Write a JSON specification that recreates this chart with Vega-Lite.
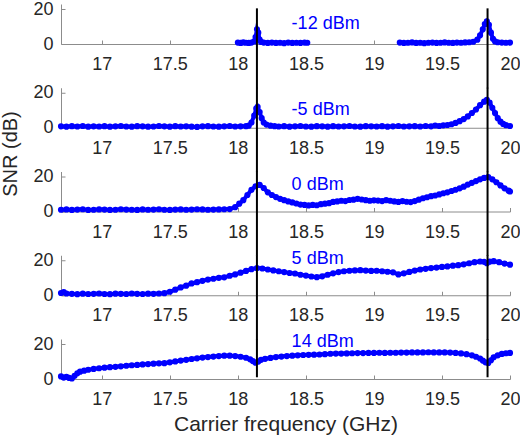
{
  "$schema": "https://vega.github.io/schema/vega-lite/v6.json",
  "background": "white",
  "padding": {"left": 0, "top": 0, "right": 0, "bottom": 0},
  "autosize": {"type": "pad"},
  "bounds": "flush",
  "spacing": 43.75,
  "config": {
    "view": {"stroke": null},
    "font": "Liberation Sans",
    "axis": {
      "labelFont": "Liberation Sans",
      "titleFont": "Liberation Sans",
      "labelFontSize": 18,
      "titleFontSize": 20,
      "titleFontWeight": "normal",
      "labelColor": "#262626",
      "titleColor": "#262626",
      "domainColor": "#8c8c8c",
      "tickColor": "#8c8c8c",
      "tickSize": -4,
      "labelFlush": false,
      "grid": false
    }
  },
  "datasets": {
    "vlines": [{"f": 18.14}, {"f": 19.835}],
    "snr": [
      {"p":"-12 dBm","g":"a","f":18.00,"s":0.8},{"p":"-12 dBm","g":"a","f":18.02,"s":0.6},{"p":"-12 dBm","g":"a","f":18.04,"s":0.9},
      {"p":"-12 dBm","g":"a","f":18.06,"s":0.7},{"p":"-12 dBm","g":"a","f":18.08,"s":0.6},{"p":"-12 dBm","g":"a","f":18.10,"s":0.8},
      {"p":"-12 dBm","g":"a","f":18.12,"s":1.5},{"p":"-12 dBm","g":"a","f":18.13,"s":4},{"p":"-12 dBm","g":"a","f":18.14,"s":8.5},
      {"p":"-12 dBm","g":"a","f":18.15,"s":6.5},{"p":"-12 dBm","g":"a","f":18.16,"s":2.5},{"p":"-12 dBm","g":"a","f":18.17,"s":1.2},
      {"p":"-12 dBm","g":"a","f":18.19,"s":0.8},{"p":"-12 dBm","g":"a","f":18.22,"s":0.6},{"p":"-12 dBm","g":"a","f":18.25,"s":0.8},
      {"p":"-12 dBm","g":"a","f":18.28,"s":0.6},{"p":"-12 dBm","g":"a","f":18.31,"s":0.7},{"p":"-12 dBm","g":"a","f":18.34,"s":0.5},
      {"p":"-12 dBm","g":"a","f":18.37,"s":0.8},{"p":"-12 dBm","g":"a","f":18.40,"s":0.6},{"p":"-12 dBm","g":"a","f":18.43,"s":0.7},
      {"p":"-12 dBm","g":"a","f":18.46,"s":0.6},{"p":"-12 dBm","g":"a","f":18.49,"s":0.8},{"p":"-12 dBm","g":"a","f":18.51,"s":0.7},
      {"p":"-12 dBm","g":"b","f":19.19,"s":0.8},{"p":"-12 dBm","g":"b","f":19.22,"s":0.6},{"p":"-12 dBm","g":"b","f":19.25,"s":0.7},
      {"p":"-12 dBm","g":"b","f":19.28,"s":0.9},{"p":"-12 dBm","g":"b","f":19.31,"s":0.6},{"p":"-12 dBm","g":"b","f":19.34,"s":0.7},
      {"p":"-12 dBm","g":"b","f":19.37,"s":0.5},{"p":"-12 dBm","g":"b","f":19.40,"s":0.7},{"p":"-12 dBm","g":"b","f":19.43,"s":0.8},
      {"p":"-12 dBm","g":"b","f":19.46,"s":0.6},{"p":"-12 dBm","g":"b","f":19.49,"s":0.7},{"p":"-12 dBm","g":"b","f":19.52,"s":0.9},
      {"p":"-12 dBm","g":"b","f":19.55,"s":0.7},{"p":"-12 dBm","g":"b","f":19.58,"s":0.6},{"p":"-12 dBm","g":"b","f":19.61,"s":0.8},
      {"p":"-12 dBm","g":"b","f":19.64,"s":0.7},{"p":"-12 dBm","g":"b","f":19.67,"s":0.9},{"p":"-12 dBm","g":"b","f":19.70,"s":1.0},
      {"p":"-12 dBm","g":"b","f":19.73,"s":1.3},{"p":"-12 dBm","g":"b","f":19.76,"s":2.5},{"p":"-12 dBm","g":"b","f":19.78,"s":5},
      {"p":"-12 dBm","g":"b","f":19.80,"s":8.5},{"p":"-12 dBm","g":"b","f":19.815,"s":11.5},{"p":"-12 dBm","g":"b","f":19.83,"s":13},
      {"p":"-12 dBm","g":"b","f":19.845,"s":11},{"p":"-12 dBm","g":"b","f":19.86,"s":6.5},{"p":"-12 dBm","g":"b","f":19.875,"s":3},
      {"p":"-12 dBm","g":"b","f":19.89,"s":1.5},{"p":"-12 dBm","g":"b","f":19.91,"s":1.0},{"p":"-12 dBm","g":"b","f":19.94,"s":0.8},
      {"p":"-12 dBm","g":"b","f":19.97,"s":0.7},{"p":"-12 dBm","g":"b","f":20.00,"s":0.8},

      {"p":"-5 dBm","f":16.70,"s":0.8},{"p":"-5 dBm","f":16.74,"s":0.6},{"p":"-5 dBm","f":16.78,"s":0.9},{"p":"-5 dBm","f":16.82,"s":0.7},
      {"p":"-5 dBm","f":16.86,"s":1.0},{"p":"-5 dBm","f":16.90,"s":0.6},{"p":"-5 dBm","f":16.94,"s":0.8},{"p":"-5 dBm","f":16.98,"s":0.7},
      {"p":"-5 dBm","f":17.02,"s":0.9},{"p":"-5 dBm","f":17.06,"s":0.6},{"p":"-5 dBm","f":17.10,"s":0.8},{"p":"-5 dBm","f":17.14,"s":1.0},
      {"p":"-5 dBm","f":17.18,"s":0.7},{"p":"-5 dBm","f":17.22,"s":0.6},{"p":"-5 dBm","f":17.26,"s":0.9},{"p":"-5 dBm","f":17.30,"s":0.8},
      {"p":"-5 dBm","f":17.34,"s":0.6},{"p":"-5 dBm","f":17.38,"s":0.7},{"p":"-5 dBm","f":17.42,"s":1.0},{"p":"-5 dBm","f":17.46,"s":0.8},
      {"p":"-5 dBm","f":17.50,"s":0.6},{"p":"-5 dBm","f":17.54,"s":0.9},{"p":"-5 dBm","f":17.58,"s":0.7},{"p":"-5 dBm","f":17.62,"s":0.8},
      {"p":"-5 dBm","f":17.66,"s":0.6},{"p":"-5 dBm","f":17.70,"s":0.5},{"p":"-5 dBm","f":17.74,"s":0.8},{"p":"-5 dBm","f":17.78,"s":0.9},
      {"p":"-5 dBm","f":17.82,"s":0.7},{"p":"-5 dBm","f":17.86,"s":0.6},{"p":"-5 dBm","f":17.90,"s":0.8},{"p":"-5 dBm","f":17.94,"s":1.0},
      {"p":"-5 dBm","f":17.98,"s":0.7},{"p":"-5 dBm","f":18.02,"s":0.8},{"p":"-5 dBm","f":18.06,"s":0.9},
      {"p":"-5 dBm","f":18.08,"s":1.2},{"p":"-5 dBm","f":18.10,"s":3},{"p":"-5 dBm","f":18.12,"s":7},{"p":"-5 dBm","f":18.135,"s":11},
      {"p":"-5 dBm","f":18.145,"s":12},{"p":"-5 dBm","f":18.16,"s":9},{"p":"-5 dBm","f":18.175,"s":5.5},{"p":"-5 dBm","f":18.19,"s":3},
      {"p":"-5 dBm","f":18.21,"s":1.8},{"p":"-5 dBm","f":18.24,"s":1.2},{"p":"-5 dBm","f":18.27,"s":0.9},
      {"p":"-5 dBm","f":18.30,"s":0.7},{"p":"-5 dBm","f":18.34,"s":0.9},{"p":"-5 dBm","f":18.38,"s":0.6},{"p":"-5 dBm","f":18.42,"s":0.8},
      {"p":"-5 dBm","f":18.46,"s":1.0},{"p":"-5 dBm","f":18.50,"s":0.7},{"p":"-5 dBm","f":18.54,"s":0.6},{"p":"-5 dBm","f":18.58,"s":0.9},
      {"p":"-5 dBm","f":18.62,"s":0.8},{"p":"-5 dBm","f":18.66,"s":0.6},{"p":"-5 dBm","f":18.70,"s":0.9},{"p":"-5 dBm","f":18.74,"s":0.7},
      {"p":"-5 dBm","f":18.78,"s":0.8},{"p":"-5 dBm","f":18.82,"s":1.0},{"p":"-5 dBm","f":18.86,"s":0.7},{"p":"-5 dBm","f":18.90,"s":0.6},
      {"p":"-5 dBm","f":18.94,"s":0.9},{"p":"-5 dBm","f":18.98,"s":0.8},{"p":"-5 dBm","f":19.02,"s":0.7},{"p":"-5 dBm","f":19.06,"s":0.9},
      {"p":"-5 dBm","f":19.10,"s":0.6},{"p":"-5 dBm","f":19.14,"s":0.8},{"p":"-5 dBm","f":19.18,"s":1.0},{"p":"-5 dBm","f":19.22,"s":0.7},
      {"p":"-5 dBm","f":19.26,"s":0.8},{"p":"-5 dBm","f":19.30,"s":0.9},{"p":"-5 dBm","f":19.34,"s":0.7},{"p":"-5 dBm","f":19.38,"s":1.0},
      {"p":"-5 dBm","f":19.42,"s":0.8},{"p":"-5 dBm","f":19.45,"s":1.3},{"p":"-5 dBm","f":19.48,"s":1.0},{"p":"-5 dBm","f":19.51,"s":1.4},
      {"p":"-5 dBm","f":19.54,"s":1.6},{"p":"-5 dBm","f":19.57,"s":2.0},{"p":"-5 dBm","f":19.60,"s":2.8},{"p":"-5 dBm","f":19.63,"s":3.8},
      {"p":"-5 dBm","f":19.66,"s":5},{"p":"-5 dBm","f":19.69,"s":6.5},{"p":"-5 dBm","f":19.72,"s":8.5},{"p":"-5 dBm","f":19.75,"s":10.5},
      {"p":"-5 dBm","f":19.78,"s":13},{"p":"-5 dBm","f":19.81,"s":15},{"p":"-5 dBm","f":19.83,"s":16},{"p":"-5 dBm","f":19.85,"s":14.5},
      {"p":"-5 dBm","f":19.87,"s":11.5},{"p":"-5 dBm","f":19.89,"s":8.5},{"p":"-5 dBm","f":19.91,"s":5.5},{"p":"-5 dBm","f":19.93,"s":3.5},
      {"p":"-5 dBm","f":19.95,"s":2.2},{"p":"-5 dBm","f":19.97,"s":1.5},{"p":"-5 dBm","f":20.00,"s":1.0},

      {"p":"0 dBm","f":16.70,"s":1.0},{"p":"0 dBm","f":16.74,"s":1.2},{"p":"0 dBm","f":16.78,"s":0.9},{"p":"0 dBm","f":16.82,"s":1.1},
      {"p":"0 dBm","f":16.86,"s":1.3},{"p":"0 dBm","f":16.90,"s":0.9},{"p":"0 dBm","f":16.94,"s":1.0},{"p":"0 dBm","f":16.98,"s":1.2},
      {"p":"0 dBm","f":17.02,"s":1.1},{"p":"0 dBm","f":17.06,"s":0.9},{"p":"0 dBm","f":17.10,"s":1.0},{"p":"0 dBm","f":17.14,"s":1.3},
      {"p":"0 dBm","f":17.18,"s":1.1},{"p":"0 dBm","f":17.22,"s":1.0},{"p":"0 dBm","f":17.26,"s":0.9},{"p":"0 dBm","f":17.30,"s":1.2},
      {"p":"0 dBm","f":17.34,"s":1.0},{"p":"0 dBm","f":17.38,"s":1.1},{"p":"0 dBm","f":17.42,"s":1.3},{"p":"0 dBm","f":17.46,"s":1.0},
      {"p":"0 dBm","f":17.50,"s":0.9},{"p":"0 dBm","f":17.54,"s":1.1},{"p":"0 dBm","f":17.58,"s":1.2},{"p":"0 dBm","f":17.62,"s":1.0},
      {"p":"0 dBm","f":17.66,"s":1.1},{"p":"0 dBm","f":17.70,"s":1.3},{"p":"0 dBm","f":17.74,"s":1.2},{"p":"0 dBm","f":17.78,"s":1.0},
      {"p":"0 dBm","f":17.82,"s":1.1},{"p":"0 dBm","f":17.86,"s":1.2},{"p":"0 dBm","f":17.90,"s":1.3},{"p":"0 dBm","f":17.94,"s":1.4},
      {"p":"0 dBm","f":17.98,"s":2.5},{"p":"0 dBm","f":18.01,"s":4.5},{"p":"0 dBm","f":18.04,"s":6.5},{"p":"0 dBm","f":18.07,"s":9.5},
      {"p":"0 dBm","f":18.10,"s":12.5},{"p":"0 dBm","f":18.13,"s":14.5},{"p":"0 dBm","f":18.16,"s":15.3},{"p":"0 dBm","f":18.19,"s":13.5},
      {"p":"0 dBm","f":18.22,"s":11},{"p":"0 dBm","f":18.25,"s":9.5},{"p":"0 dBm","f":18.28,"s":8.3},{"p":"0 dBm","f":18.31,"s":7.3},
      {"p":"0 dBm","f":18.34,"s":6.5},{"p":"0 dBm","f":18.37,"s":5.8},{"p":"0 dBm","f":18.40,"s":5.2},{"p":"0 dBm","f":18.43,"s":4.6},
      {"p":"0 dBm","f":18.46,"s":4.0},{"p":"0 dBm","f":18.49,"s":3.8},{"p":"0 dBm","f":18.52,"s":3.5},{"p":"0 dBm","f":18.55,"s":3.8},
      {"p":"0 dBm","f":18.58,"s":3.6},{"p":"0 dBm","f":18.61,"s":4.2},{"p":"0 dBm","f":18.64,"s":4.5},{"p":"0 dBm","f":18.67,"s":4.8},
      {"p":"0 dBm","f":18.70,"s":5.5},{"p":"0 dBm","f":18.73,"s":5.8},{"p":"0 dBm","f":18.76,"s":6.2},{"p":"0 dBm","f":18.79,"s":6.0},
      {"p":"0 dBm","f":18.82,"s":6.6},{"p":"0 dBm","f":18.85,"s":6.8},{"p":"0 dBm","f":18.88,"s":7.3},{"p":"0 dBm","f":18.91,"s":6.9},
      {"p":"0 dBm","f":18.94,"s":6.5},{"p":"0 dBm","f":18.97,"s":6.2},{"p":"0 dBm","f":19.00,"s":6.4},{"p":"0 dBm","f":19.03,"s":6.3},
      {"p":"0 dBm","f":19.06,"s":6.0},{"p":"0 dBm","f":19.09,"s":6.5},{"p":"0 dBm","f":19.12,"s":6.2},{"p":"0 dBm","f":19.15,"s":5.8},
      {"p":"0 dBm","f":19.18,"s":5.5},{"p":"0 dBm","f":19.21,"s":6.0},{"p":"0 dBm","f":19.24,"s":5.6},{"p":"0 dBm","f":19.27,"s":5.4},
      {"p":"0 dBm","f":19.30,"s":6.0},{"p":"0 dBm","f":19.33,"s":6.8},{"p":"0 dBm","f":19.36,"s":7.6},{"p":"0 dBm","f":19.39,"s":8.2},
      {"p":"0 dBm","f":19.42,"s":8.8},{"p":"0 dBm","f":19.45,"s":9.2},{"p":"0 dBm","f":19.48,"s":9.8},{"p":"0 dBm","f":19.51,"s":10.5},
      {"p":"0 dBm","f":19.54,"s":11.0},{"p":"0 dBm","f":19.57,"s":11.8},{"p":"0 dBm","f":19.60,"s":12.5},{"p":"0 dBm","f":19.63,"s":13.3},
      {"p":"0 dBm","f":19.66,"s":14.3},{"p":"0 dBm","f":19.69,"s":15.5},{"p":"0 dBm","f":19.72,"s":16.5},{"p":"0 dBm","f":19.75,"s":17.5},
      {"p":"0 dBm","f":19.78,"s":18.5},{"p":"0 dBm","f":19.81,"s":19.3},{"p":"0 dBm","f":19.84,"s":19.8},{"p":"0 dBm","f":19.87,"s":18.5},
      {"p":"0 dBm","f":19.90,"s":16.8},{"p":"0 dBm","f":19.93,"s":15},{"p":"0 dBm","f":19.96,"s":13.3},{"p":"0 dBm","f":19.99,"s":12},
      {"p":"0 dBm","f":20.00,"s":11.5},

      {"p":"5 dBm","f":16.70,"s":1.3},{"p":"5 dBm","f":16.72,"s":1.8},{"p":"5 dBm","f":16.74,"s":1.0},{"p":"5 dBm","f":16.78,"s":0.8},
      {"p":"5 dBm","f":16.82,"s":0.6},{"p":"5 dBm","f":16.86,"s":0.9},{"p":"5 dBm","f":16.90,"s":0.7},{"p":"5 dBm","f":16.94,"s":0.8},
      {"p":"5 dBm","f":16.98,"s":1.0},{"p":"5 dBm","f":17.02,"s":0.7},{"p":"5 dBm","f":17.06,"s":0.6},{"p":"5 dBm","f":17.10,"s":0.9},
      {"p":"5 dBm","f":17.14,"s":0.8},{"p":"5 dBm","f":17.18,"s":0.7},{"p":"5 dBm","f":17.22,"s":1.0},{"p":"5 dBm","f":17.26,"s":0.8},
      {"p":"5 dBm","f":17.30,"s":0.7},{"p":"5 dBm","f":17.34,"s":0.9},{"p":"5 dBm","f":17.38,"s":0.8},{"p":"5 dBm","f":17.42,"s":1.0},
      {"p":"5 dBm","f":17.46,"s":1.2},{"p":"5 dBm","f":17.50,"s":2.0},{"p":"5 dBm","f":17.54,"s":3.2},{"p":"5 dBm","f":17.58,"s":4.5},
      {"p":"5 dBm","f":17.62,"s":5.5},{"p":"5 dBm","f":17.66,"s":6.8},{"p":"5 dBm","f":17.70,"s":7.5},{"p":"5 dBm","f":17.74,"s":8.3},
      {"p":"5 dBm","f":17.78,"s":9.0},{"p":"5 dBm","f":17.82,"s":9.5},{"p":"5 dBm","f":17.86,"s":10.0},{"p":"5 dBm","f":17.90,"s":10.3},
      {"p":"5 dBm","f":17.94,"s":11.2},{"p":"5 dBm","f":17.98,"s":12.0},{"p":"5 dBm","f":18.02,"s":13.0},{"p":"5 dBm","f":18.06,"s":14.0},
      {"p":"5 dBm","f":18.10,"s":15.0},{"p":"5 dBm","f":18.14,"s":15.6},{"p":"5 dBm","f":18.18,"s":15.4},{"p":"5 dBm","f":18.22,"s":14.8},
      {"p":"5 dBm","f":18.26,"s":14.3},{"p":"5 dBm","f":18.30,"s":13.8},{"p":"5 dBm","f":18.34,"s":13.3},{"p":"5 dBm","f":18.38,"s":12.8},
      {"p":"5 dBm","f":18.42,"s":12.5},{"p":"5 dBm","f":18.46,"s":11.8},{"p":"5 dBm","f":18.50,"s":11.3},{"p":"5 dBm","f":18.54,"s":10.8},
      {"p":"5 dBm","f":18.58,"s":10.4},{"p":"5 dBm","f":18.62,"s":10.9},{"p":"5 dBm","f":18.66,"s":11.8},{"p":"5 dBm","f":18.70,"s":12.6},
      {"p":"5 dBm","f":18.74,"s":13.3},{"p":"5 dBm","f":18.78,"s":13.8},{"p":"5 dBm","f":18.82,"s":14.1},{"p":"5 dBm","f":18.86,"s":14.3},
      {"p":"5 dBm","f":18.90,"s":14.4},{"p":"5 dBm","f":18.94,"s":14.2},{"p":"5 dBm","f":18.98,"s":14.0},{"p":"5 dBm","f":19.02,"s":14.1},
      {"p":"5 dBm","f":19.06,"s":13.8},{"p":"5 dBm","f":19.10,"s":13.5},{"p":"5 dBm","f":19.14,"s":13.2},{"p":"5 dBm","f":19.18,"s":12.0},
      {"p":"5 dBm","f":19.22,"s":12.6},{"p":"5 dBm","f":19.26,"s":13.4},{"p":"5 dBm","f":19.30,"s":14.2},{"p":"5 dBm","f":19.34,"s":14.8},
      {"p":"5 dBm","f":19.38,"s":15.2},{"p":"5 dBm","f":19.42,"s":15.6},{"p":"5 dBm","f":19.46,"s":15.9},{"p":"5 dBm","f":19.50,"s":16.3},
      {"p":"5 dBm","f":19.54,"s":16.6},{"p":"5 dBm","f":19.58,"s":17.0},{"p":"5 dBm","f":19.62,"s":17.3},{"p":"5 dBm","f":19.66,"s":17.8},
      {"p":"5 dBm","f":19.70,"s":18.4},{"p":"5 dBm","f":19.74,"s":19.0},{"p":"5 dBm","f":19.78,"s":19.4},{"p":"5 dBm","f":19.81,"s":19.2},
      {"p":"5 dBm","f":19.83,"s":18.4},{"p":"5 dBm","f":19.85,"s":19.3},{"p":"5 dBm","f":19.88,"s":19.6},{"p":"5 dBm","f":19.92,"s":19.0},
      {"p":"5 dBm","f":19.96,"s":18.2},{"p":"5 dBm","f":20.00,"s":17.6},

      {"p":"14 dBm","f":16.70,"s":1.5},{"p":"14 dBm","f":16.72,"s":0.8},{"p":"14 dBm","f":16.74,"s":1.2},{"p":"14 dBm","f":16.76,"s":0.6},
      {"p":"14 dBm","f":16.78,"s":0.3},{"p":"14 dBm","f":16.80,"s":1.8},{"p":"14 dBm","f":16.82,"s":3.3},{"p":"14 dBm","f":16.84,"s":4.2},
      {"p":"14 dBm","f":16.87,"s":4.8},{"p":"14 dBm","f":16.90,"s":5.3},{"p":"14 dBm","f":16.94,"s":5.8},{"p":"14 dBm","f":16.98,"s":6.2},
      {"p":"14 dBm","f":17.02,"s":6.5},{"p":"14 dBm","f":17.06,"s":6.8},{"p":"14 dBm","f":17.10,"s":7.0},{"p":"14 dBm","f":17.14,"s":7.3},
      {"p":"14 dBm","f":17.18,"s":7.6},{"p":"14 dBm","f":17.22,"s":7.9},{"p":"14 dBm","f":17.26,"s":8.1},{"p":"14 dBm","f":17.30,"s":8.4},
      {"p":"14 dBm","f":17.34,"s":8.6},{"p":"14 dBm","f":17.38,"s":8.8},{"p":"14 dBm","f":17.42,"s":9.0},{"p":"14 dBm","f":17.46,"s":9.1},
      {"p":"14 dBm","f":17.50,"s":9.6},{"p":"14 dBm","f":17.54,"s":10.1},{"p":"14 dBm","f":17.58,"s":10.6},{"p":"14 dBm","f":17.62,"s":11.0},
      {"p":"14 dBm","f":17.66,"s":11.5},{"p":"14 dBm","f":17.70,"s":11.9},{"p":"14 dBm","f":17.74,"s":12.3},{"p":"14 dBm","f":17.78,"s":12.6},
      {"p":"14 dBm","f":17.82,"s":12.9},{"p":"14 dBm","f":17.86,"s":13.2},{"p":"14 dBm","f":17.90,"s":13.4},{"p":"14 dBm","f":17.94,"s":13.4},
      {"p":"14 dBm","f":17.98,"s":13.2},{"p":"14 dBm","f":18.02,"s":12.8},{"p":"14 dBm","f":18.06,"s":12.2},{"p":"14 dBm","f":18.09,"s":11.3},
      {"p":"14 dBm","f":18.11,"s":10.3},{"p":"14 dBm","f":18.13,"s":9.4},{"p":"14 dBm","f":18.15,"s":10.0},{"p":"14 dBm","f":18.17,"s":11.0},
      {"p":"14 dBm","f":18.20,"s":11.6},{"p":"14 dBm","f":18.24,"s":12.1},{"p":"14 dBm","f":18.28,"s":12.6},{"p":"14 dBm","f":18.32,"s":12.9},
      {"p":"14 dBm","f":18.36,"s":13.2},{"p":"14 dBm","f":18.40,"s":13.4},{"p":"14 dBm","f":18.44,"s":13.6},{"p":"14 dBm","f":18.48,"s":13.8},
      {"p":"14 dBm","f":18.52,"s":13.9},{"p":"14 dBm","f":18.56,"s":14.0},{"p":"14 dBm","f":18.60,"s":14.1},{"p":"14 dBm","f":18.64,"s":14.3},
      {"p":"14 dBm","f":18.68,"s":14.5},{"p":"14 dBm","f":18.72,"s":14.6},{"p":"14 dBm","f":18.76,"s":14.6},{"p":"14 dBm","f":18.80,"s":14.7},
      {"p":"14 dBm","f":18.84,"s":14.8},{"p":"14 dBm","f":18.88,"s":14.9},{"p":"14 dBm","f":18.92,"s":14.9},{"p":"14 dBm","f":18.96,"s":15.0},
      {"p":"14 dBm","f":19.00,"s":15.0},{"p":"14 dBm","f":19.04,"s":15.1},{"p":"14 dBm","f":19.08,"s":15.0},{"p":"14 dBm","f":19.12,"s":15.1},
      {"p":"14 dBm","f":19.16,"s":15.1},{"p":"14 dBm","f":19.20,"s":15.2},{"p":"14 dBm","f":19.24,"s":15.2},{"p":"14 dBm","f":19.28,"s":15.3},
      {"p":"14 dBm","f":19.32,"s":15.3},{"p":"14 dBm","f":19.36,"s":15.3},{"p":"14 dBm","f":19.40,"s":15.4},{"p":"14 dBm","f":19.44,"s":15.3},
      {"p":"14 dBm","f":19.48,"s":15.3},{"p":"14 dBm","f":19.52,"s":15.3},{"p":"14 dBm","f":19.56,"s":15.2},{"p":"14 dBm","f":19.60,"s":15.0},
      {"p":"14 dBm","f":19.64,"s":14.7},{"p":"14 dBm","f":19.68,"s":14.3},{"p":"14 dBm","f":19.72,"s":13.6},{"p":"14 dBm","f":19.75,"s":12.8},
      {"p":"14 dBm","f":19.78,"s":11.8},{"p":"14 dBm","f":19.80,"s":10.6},{"p":"14 dBm","f":19.82,"s":9.6},{"p":"14 dBm","f":19.84,"s":9.2},
      {"p":"14 dBm","f":19.86,"s":10.8},{"p":"14 dBm","f":19.88,"s":12.5},{"p":"14 dBm","f":19.91,"s":13.6},{"p":"14 dBm","f":19.94,"s":14.4},
      {"p":"14 dBm","f":19.97,"s":14.8},{"p":"14 dBm","f":20.00,"s":15.0}
    ]
  },
  "vconcat": [
    {
      "width": 449,
      "height": 40,
      "layer": [
        {
          "data": {"name": "snr"},
          "transform": [{"filter": "datum.p === '-12 dBm'"}],
          "mark": {"type": "line", "color": "#0000ff", "strokeWidth": 4},
          "encoding": {
            "x": {"field": "f", "type": "quantitative", "scale": {"domain": [16.7, 20], "nice": false, "zero": false},
                  "axis": {"values": [17, 17.5, 18, 18.5, 19, 19.5, 20], "format": "~g", "title": null, "labelPadding": 15.5}},
            "y": {"field": "s", "type": "quantitative", "scale": {"domain": [0, 23], "nice": false},
                  "axis": {"values": [0, 10, 20], "title": null, "labelPadding": 12}},
            "detail": {"field": "g", "type": "nominal"}
          }
        },
        {
          "data": {"name": "snr"},
          "transform": [{"filter": "datum.p === '-12 dBm'"}],
          "mark": {"type": "circle", "color": "#0000ff", "size": 38, "opacity": 1},
          "encoding": {"x": {"field": "f", "type": "quantitative"}, "y": {"field": "s", "type": "quantitative"}}
        },
        {
          "data": {"name": "vlines"},
          "mark": {"type": "rule", "color": "black", "strokeWidth": 2},
          "encoding": {"x": {"field": "f", "type": "quantitative"}, "y": {"datum": 20.5}, "y2": {"datum": -25.5}}
        },
        {
          "data": {"values": [{"t": "-12 dBm"}]},
          "mark": {"type": "text", "align": "left", "baseline": "middle", "font": "Liberation Sans", "fontSize": 18, "color": "#0000ff"},
          "encoding": {"text": {"field": "t"}, "x": {"datum": 18.395}, "y": {"datum": 11.5}}
        }
      ]
    },
    {
      "width": 449,
      "height": 40,
      "layer": [
        {
          "data": {"name": "snr"},
          "transform": [{"filter": "datum.p === '-5 dBm'"}],
          "mark": {"type": "line", "color": "#0000ff", "strokeWidth": 4},
          "encoding": {
            "x": {"field": "f", "type": "quantitative", "scale": {"domain": [16.7, 20], "nice": false, "zero": false},
                  "axis": {"values": [17, 17.5, 18, 18.5, 19, 19.5, 20], "format": "~g", "title": null, "labelPadding": 15.5}},
            "y": {"field": "s", "type": "quantitative", "scale": {"domain": [0, 23], "nice": false},
                  "axis": {"values": [0, 10, 20], "title": null, "labelPadding": 12}}
          }
        },
        {
          "data": {"name": "snr"},
          "transform": [{"filter": "datum.p === '-5 dBm'"}],
          "mark": {"type": "circle", "color": "#0000ff", "size": 38, "opacity": 1},
          "encoding": {"x": {"field": "f", "type": "quantitative"}, "y": {"field": "s", "type": "quantitative"}}
        },
        {
          "data": {"name": "vlines"},
          "mark": {"type": "rule", "color": "black", "strokeWidth": 2},
          "encoding": {"x": {"field": "f", "type": "quantitative"}, "y": {"datum": 23}, "y2": {"datum": -25.5}}
        },
        {
          "data": {"values": [{"t": "-5 dBm"}]},
          "mark": {"type": "text", "align": "left", "baseline": "middle", "font": "Liberation Sans", "fontSize": 18, "color": "#0000ff"},
          "encoding": {"text": {"field": "t"}, "x": {"datum": 18.395}, "y": {"datum": 10.1}}
        }
      ]
    },
    {
      "width": 449,
      "height": 40,
      "layer": [
        {
          "data": {"name": "snr"},
          "transform": [{"filter": "datum.p === '0 dBm'"}],
          "mark": {"type": "line", "color": "#0000ff", "strokeWidth": 4},
          "encoding": {
            "x": {"field": "f", "type": "quantitative", "scale": {"domain": [16.7, 20], "nice": false, "zero": false},
                  "axis": {"values": [17, 17.5, 18, 18.5, 19, 19.5, 20], "format": "~g", "title": null, "labelPadding": 15.5}},
            "y": {"field": "s", "type": "quantitative", "scale": {"domain": [0, 23], "nice": false},
                  "axis": {"values": [0, 10, 20], "title": "SNR (dB)", "labelPadding": 12, "titleY": -18, "titlePadding": 12}}
          }
        },
        {
          "data": {"name": "snr"},
          "transform": [{"filter": "datum.p === '0 dBm'"}],
          "mark": {"type": "circle", "color": "#0000ff", "size": 38, "opacity": 1},
          "encoding": {"x": {"field": "f", "type": "quantitative"}, "y": {"field": "s", "type": "quantitative"}}
        },
        {
          "data": {"name": "vlines"},
          "mark": {"type": "rule", "color": "black", "strokeWidth": 2},
          "encoding": {"x": {"field": "f", "type": "quantitative"}, "y": {"datum": 23}, "y2": {"datum": -25.5}}
        },
        {
          "data": {"values": [{"t": "0 dBm"}]},
          "mark": {"type": "text", "align": "left", "baseline": "middle", "font": "Liberation Sans", "fontSize": 18, "color": "#0000ff"},
          "encoding": {"text": {"field": "t"}, "x": {"datum": 18.395}, "y": {"datum": 15.3}}
        }
      ]
    },
    {
      "width": 449,
      "height": 40,
      "layer": [
        {
          "data": {"name": "snr"},
          "transform": [{"filter": "datum.p === '5 dBm'"}],
          "mark": {"type": "line", "color": "#0000ff", "strokeWidth": 4},
          "encoding": {
            "x": {"field": "f", "type": "quantitative", "scale": {"domain": [16.7, 20], "nice": false, "zero": false},
                  "axis": {"values": [17, 17.5, 18, 18.5, 19, 19.5, 20], "format": "~g", "title": null, "labelPadding": 15.5}},
            "y": {"field": "s", "type": "quantitative", "scale": {"domain": [0, 23], "nice": false},
                  "axis": {"values": [0, 10, 20], "title": null, "labelPadding": 12}}
          }
        },
        {
          "data": {"name": "snr"},
          "transform": [{"filter": "datum.p === '5 dBm'"}],
          "mark": {"type": "circle", "color": "#0000ff", "size": 38, "opacity": 1},
          "encoding": {"x": {"field": "f", "type": "quantitative"}, "y": {"field": "s", "type": "quantitative"}}
        },
        {
          "data": {"name": "vlines"},
          "mark": {"type": "rule", "color": "black", "strokeWidth": 2},
          "encoding": {"x": {"field": "f", "type": "quantitative"}, "y": {"datum": 23}, "y2": {"datum": -25.5}}
        },
        {
          "data": {"values": [{"t": "5 dBm"}]},
          "mark": {"type": "text", "align": "left", "baseline": "middle", "font": "Liberation Sans", "fontSize": 18, "color": "#0000ff"},
          "encoding": {"text": {"field": "t"}, "x": {"datum": 18.395}, "y": {"datum": 21}}
        }
      ]
    },
    {
      "width": 449,
      "height": 40,
      "layer": [
        {
          "data": {"name": "snr"},
          "transform": [{"filter": "datum.p === '14 dBm'"}],
          "mark": {"type": "line", "color": "#0000ff", "strokeWidth": 4},
          "encoding": {
            "x": {"field": "f", "type": "quantitative", "scale": {"domain": [16.7, 20], "nice": false, "zero": false},
                  "axis": {"values": [17, 17.5, 18, 18.5, 19, 19.5, 20], "format": "~g", "title": "Carrier frequency (GHz)", "titleFontSize": 21, "titlePadding": 5, "labelPadding": 15.5}},
            "y": {"field": "s", "type": "quantitative", "scale": {"domain": [0, 23], "nice": false},
                  "axis": {"values": [0, 10, 20], "title": null, "labelPadding": 12}}
          }
        },
        {
          "data": {"name": "snr"},
          "transform": [{"filter": "datum.p === '14 dBm'"}],
          "mark": {"type": "circle", "color": "#0000ff", "size": 38, "opacity": 1},
          "encoding": {"x": {"field": "f", "type": "quantitative"}, "y": {"field": "s", "type": "quantitative"}}
        },
        {
          "data": {"name": "vlines"},
          "mark": {"type": "rule", "color": "black", "strokeWidth": 2},
          "encoding": {"x": {"field": "f", "type": "quantitative"}, "y": {"datum": 23}, "y2": {"datum": 1}}
        },
        {
          "data": {"values": [{"t": "14 dBm"}]},
          "mark": {"type": "text", "align": "left", "baseline": "middle", "font": "Liberation Sans", "fontSize": 18, "color": "#0000ff"},
          "encoding": {"text": {"field": "t"}, "x": {"datum": 18.395}, "y": {"datum": 21.3}}
        }
      ]
    }
  ]
}
